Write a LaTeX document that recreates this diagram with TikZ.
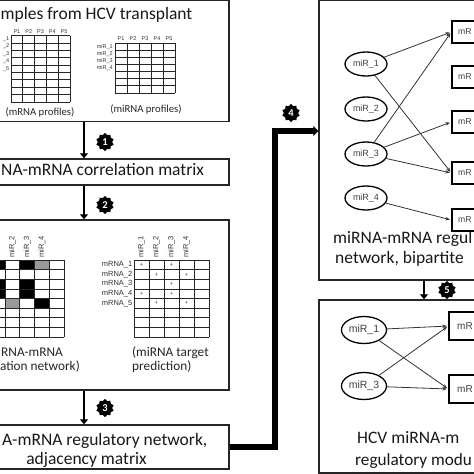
\documentclass[tikz,border=0pt]{standalone}
\usepackage{fontspec}
\setmainfont{Carlito}
\newfontfamily\arialf{Liberation Sans}
\usetikzlibrary{shapes.geometric,arrows.meta,calc}
\begin{document}
\begin{tikzpicture}[x=1pt,y=-1pt,
  panel/.style={draw=black!85,line width=1.4pt,inner sep=0pt,rectangle},
  title/.style={font=\fontsize{17.5}{19}\selectfont,anchor=base,inner sep=0pt,text=black!90},
  capa/.style={font=\fontsize{10.7}{12}\selectfont,anchor=base,inner sep=0pt,text=black!85},
  capb/.style={font=\fontsize{13.3}{14}\selectfont,anchor=base,inner sep=0pt,text=black!85},
  tiny/.style={font=\arialf\fontsize{5.5}{6}\selectfont,inner sep=0pt,text=black!80},
  small/.style={font=\arialf\fontsize{7.5}{8}\selectfont,inner sep=0pt,text=black!80},
  gline/.style={line width=0.75pt,draw=black!85},
  flow/.style={line width=2.6pt,draw=black,-{Triangle[length=5pt,width=8pt]}},
  badge/.style={star,star points=10,star point ratio=1.25,fill=black,minimum size=18pt,inner sep=0pt,text=white,font=\bfseries\fontsize{10.5}{10.5}\selectfont},
  mirfive/.style={ellipse,draw=black,line width=1.3pt,inner sep=0pt,minimum width=42pt,minimum height=24pt,font=\arialf\fontsize{9}{9}\selectfont,text=black!75},
  mirsix/.style={ellipse,draw=black,line width=1.3pt,inner sep=0pt,minimum width=45pt,minimum height=27pt,font=\arialf\fontsize{10.5}{10.5}\selectfont,text=black!75},
  mbfive/.style={rectangle,draw=black,line width=1.3pt,inner sep=0pt,minimum width=50pt,minimum height=22pt},
  mbsix/.style={rectangle,draw=black,line width=1.3pt,inner sep=0pt,minimum width=56.6pt,minimum height=28pt},
  mlabfive/.style={font=\arialf\fontsize{8.6}{8.6}\selectfont,text=black!75,inner sep=0pt,anchor=west},
  mlabsix/.style={font=\arialf\fontsize{10}{10}\selectfont,text=black!75,inner sep=0pt,anchor=west},
  edge/.style={line width=0.8pt,draw=black!80,-{Stealth[length=4.5pt,width=3.5pt]},shorten >=1.5pt}
]
\useasboundingbox (0,0) rectangle (474,474);
\clip (0,0) rectangle (474,474);
\fill[white] (0,0) rectangle (474,474);

% ---------- panels ----------
\node[panel,minimum width=286pt,minimum height=121pt] (box1) at (86,61) {};
\node[panel,minimum width=286pt,minimum height=26pt] (box2) at (86,172) {};
\node[panel,minimum width=286pt,minimum height=170pt] (box3) at (86,305) {};
\node[panel,minimum width=286pt,minimum height=44pt] (box4) at (86,447) {};
\node[panel,minimum width=206pt,minimum height=279.5pt] (box5) at (422,140.25) {};
\node[panel,minimum width=206pt,minimum height=173pt] (box6) at (422,386.5) {};

% ---------- titles (as visible in the cropped picture) ----------
\node[title,anchor=base west] (t1) at (0.5,19) {mples from HCV transplant};
\node[title,anchor=base west] (t2) at (1,175) {NA-mRNA correlation matrix};
\node[title,anchor=base west] (t4a) at (2,445) {A-mRNA regulatory network,};
\node[title] (t4b) at (86.5,464) {adjacency matrix};
\node[title,anchor=base west] (t5a) at (333,243) {miRNA-mRNA regul};
\node[title,anchor=base west] (t5b) at (335,263) {network, bipartite};
\node[title,anchor=base west] (t6a) at (357,443) {HCV miRNA-m};
\node[title,anchor=base west,font=\fontsize{17.2}{19}\selectfont] (t6b) at (355,465) {regulatory modu};

% ---------- box 1: profile matrices ----------
\foreach \i in {0,...,5} \draw[gline] ({11+\i*11.8},35.5) -- ({11+\i*11.8},102);
\foreach \j in {0,...,9} \draw[gline] (11,{35.5+\j*7.389}) -- (70,{35.5+\j*7.389});
\foreach \i in {1,...,5} \node[tiny] (lp\i) at ({11+(\i-0.5)*11.8},31.5) {P\i};
\foreach \j in {1,...,5} \node[tiny,anchor=east] (lr\j) at (9.5,{35.5+(\j-0.5)*7.389}) {\_\j};

\foreach \i in {0,...,5} \draw[gline] ({115+\i*12},43) -- ({115+\i*12},93);
\foreach \j in {0,...,7} \draw[gline] (115,{43+\j*7.1429}) -- (175,{43+\j*7.1429});
\foreach \i in {1,...,5} \node[tiny] (rp\i) at ({115+(\i-0.5)*12},39) {P\i};
\foreach \j in {1,...,4} \node[tiny,anchor=east] (rr\j) at (113,{43+(\j-0.5)*7.1429}) {miR\_\j};

\node[capa] (c1a) at (40,115) {(mRNA profiles)};
\node[capa] (c1b) at (146,112.5) {(miRNA profiles)};

% ---------- box 3: correlation network / target prediction ----------
\foreach \c/\r/\col in {1/1/black,3/1/black,4/1/black!40,1/3/black,3/3/black,1/4/black,3/4/black,2/5/black!40,4/5/black}
  \fill[\col] ({-9.75+(\c-1)*14.75},{260+(\r-1)*9.625}) rectangle ++(14.75,9.625);
\foreach \i in {0,...,5} \draw[gline] ({-9.75+\i*14.75},260) -- ({-9.75+\i*14.75},337);
\foreach \j in {0,...,8} \draw[gline] (-9.75,{260+\j*9.625}) -- (64,{260+\j*9.625});
\foreach \i in {2,...,4} \node[small,rotate=90,anchor=west] (lh\i) at ({-9.75+(\i-0.5)*14.75},258) {miR\_\i};

\foreach \i in {0,...,5} \draw[gline] ({134+\i*15},260) -- ({134+\i*15},337);
\foreach \j in {0,...,8} \draw[gline] (134,{260+\j*9.625}) -- (209,{260+\j*9.625});
\foreach \i in {1,...,4} \node[small,rotate=90,anchor=west] (rh\i) at ({134+(\i-0.5)*15},258) {miR\_\i};
\foreach \j in {1,...,5} \node[small,anchor=east] (rl\j) at (132.5,{260+(\j-0.5)*9.625}) {mRNA\_\j};
\foreach \c/\r in {1/1,3/1,2/2,4/2,3/3,1/4,3/4,2/5,4/5}
  \node[tiny] (pl\c\r) at ({134+(\c-0.5)*15},{260+(\r-0.5)*9.625}) {+};

\node[capb,anchor=base east] (c3a) at (63,356.5) {RNA-mRNA};
\node[capb,anchor=base east] (c3b) at (80,370.5) {ation network)};
\node[capb,anchor=base west] (c3c) at (132,356.5) {(miRNA target};
\node[capb,anchor=base west] (c3d) at (132,370.5) {prediction)};

% ---------- box 5: bipartite graph ----------
\node[mirfive] (e1) at (366,64) {miR\_1};
\node[mirfive] (e2) at (366,109) {miR\_2};
\node[mirfive] (e3) at (366,154) {miR\_3};
\node[mirfive] (e4) at (366,198) {miR\_4};
\foreach \k/\yy in {1/32,2/77,3/122,4/173,5/220} {
  \node[mbfive] (m\k) at (477,\yy) {};
  \node[mlabfive] (ml\k) at (458,\yy) {mR};
}
\draw[edge] (e1) -- (m1.west);
\draw[edge] (e1) -- (m4.west);
\draw[edge] (e3) -- (m1.west);
\draw[edge] (e3) -- (m3.west);
\draw[edge] (e3) -- (m4.west);
\draw[edge] (e4) -- (m5.west);

% ---------- box 6: module ----------
\node[mirsix] (f1) at (364,330) {miR\_1};
\node[mirsix] (f3) at (364,386) {miR\_3};
\node[mbsix] (n1) at (477.3,326) {};
\node[mbsix] (n4) at (477.3,389) {};
\node[mlabsix] (nl1) at (457,326) {mR};
\node[mlabsix] (nl4) at (457,389) {mR};
\draw[edge] (f1) -- (n1.west);
\draw[edge] (f1) -- (n4.west);
\draw[edge] (f3) -- (n1.west);
\draw[edge] (f3) -- (n4.west);

% ---------- flow arrows ----------
\draw[flow] ([xshift=-2pt]box1.south) -- ([xshift=-2pt]box2.north);
\draw[flow] ([xshift=-2pt]box2.south) -- ([xshift=-2pt]box3.north);
\draw[flow] ([xshift=-2pt]box3.south) -- ([xshift=-2pt]box4.north);
\draw[flow] ([xshift=2pt]box5.south) -- ([xshift=2pt]box6.north);
\coordinate (k4) at (275,131);
\draw[line width=5.5pt,-{Triangle[length=5pt,width=10pt]}] (box4.east) -| (k4) -- (k4 -| box5.west);

% ---------- step badges ----------
\node[badge] (s1) at (105,142) {1};
\node[badge] (s2) at (105,205) {2};
\node[badge] (s3) at (105,408) {3};
\node[badge] (s4) at (291,113) {4};
\node[badge] (s5) at (447,290) {5};
\end{tikzpicture}
\end{document}
